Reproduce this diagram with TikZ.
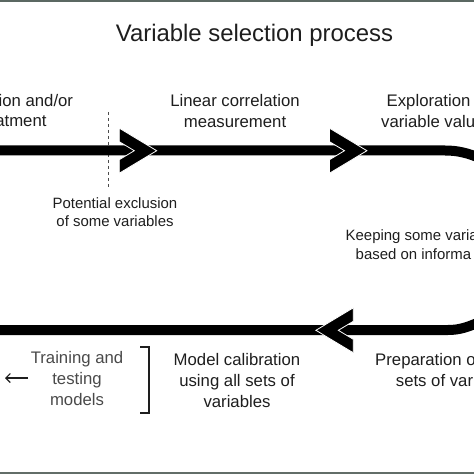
\documentclass[tikz,border=0pt]{standalone}
\usepackage{fontspec}
\setmainfont{Liberation Sans}
\usetikzlibrary{arrows.meta}
\definecolor{txt}{HTML}{1E1E1E}
\definecolor{graytxt}{HTML}{4A4A4A}
\definecolor{band}{HTML}{5B6862}
\begin{document}
\begin{tikzpicture}[x=1bp,y=-1bp,
  lbl/.style={font=\fontsize{16.8}{21}\selectfont, text=txt, inner sep=0pt, align=center},
  small/.style={font=\fontsize{15}{18.5}\selectfont, text=txt, inner sep=0pt, align=center},
  flow/.style={line width=10bp, draw=black},
  chevfill/.style={fill=black, draw=white, line width=0.8bp, line join=miter},
  chevron/.pic={\filldraw[chevfill] (0,-22.5) -- (37.4,0) -- (0,22.5) -- (0,9) -- (15,0) -- (0,-9) -- cycle;}]
\useasboundingbox (0,0) rectangle (474,474);
\clip (0,0) rectangle (474,474);
\fill[white] (0,0) rectangle (474,474);
\fill[band] (0,0) rectangle (474,2.2);
\fill[band!80!gray] (0,471.8) rectangle (474,474);

\node[font=\fontsize{24}{28}\selectfont, text=txt, inner sep=0pt, anchor=base] (title) at (254.5,41.7) {Variable selection process};

% dashed separator
\coordinate (d1) at (108,112);
\coordinate (d2) at (108,190);
\draw[dash pattern=on 3bp off 3bp, line width=0.9bp, draw=gray!60!black] (d1) -- (d2);

% main flow loop
\coordinate (a0) at (0,150.5);
\coordinate (a1) at (445,150.5);
\coordinate (a2) at (482,159);
\coordinate (a3) at (482,321);
\coordinate (a4) at (448,330);
\coordinate (a5) at (0,330);
\draw[flow] (a0) -- (a1) .. controls (458,150.5) and (468,153) .. (a2)
  .. controls (530,180) and (530,300) .. (a3)
  .. controls (468,327) and (460,330) .. (a4) -- (a5);

\pic at (119.3,150.7) {chevron};
\pic at (329.5,150.7) {chevron};
\pic[xscale=-1] at (353.3,330.3) {chevron};

% texts
\node[lbl, anchor=base east] (dt1) at (73.3,106.5) {ion and/or};
\node[lbl, anchor=base east] (dt2) at (46.7,127) {atment};
\node[lbl, anchor=base] (lc) at (235,127.5) {Linear correlation\\measurement};
\node[lbl, anchor=base west] (ex1) at (386.5,107) {Exploration};
\node[lbl, anchor=base west] (ex2) at (381,127.5) {variable valu};
\node[small, anchor=base] (pe) at (115,226.7) {Potential exclusion\\of some variables};
\node[small, anchor=base west] (kp1) at (345.5,240) {Keeping some varia};
\node[small, anchor=base west] (kp2) at (355.5,259) {based on informa};
\node[lbl, anchor=base west] (pr1) at (375,365) {Preparation o};
\node[lbl, anchor=base west] (pr2) at (395.7,386) {sets of var};
\node[lbl, anchor=base] (mc) at (237,407) {Model calibration\\using all sets of\\variables};
\node[lbl, anchor=base, text=graytxt] (tt) at (77,405.5) {Training and\\testing\\models};

% bracket
\draw[line width=1.2bp, draw=txt] (140,347) -- (149,347) -- (149,413) -- (140,413);

% small arrow
\coordinate (ar1) at (28,378);
\coordinate (ar2) at (5,378);
\draw[-{Straight Barb[length=4.5bp,width=9bp]}, line width=1.1bp, draw=txt] (ar1) -- (ar2);
\end{tikzpicture}
\end{document}
